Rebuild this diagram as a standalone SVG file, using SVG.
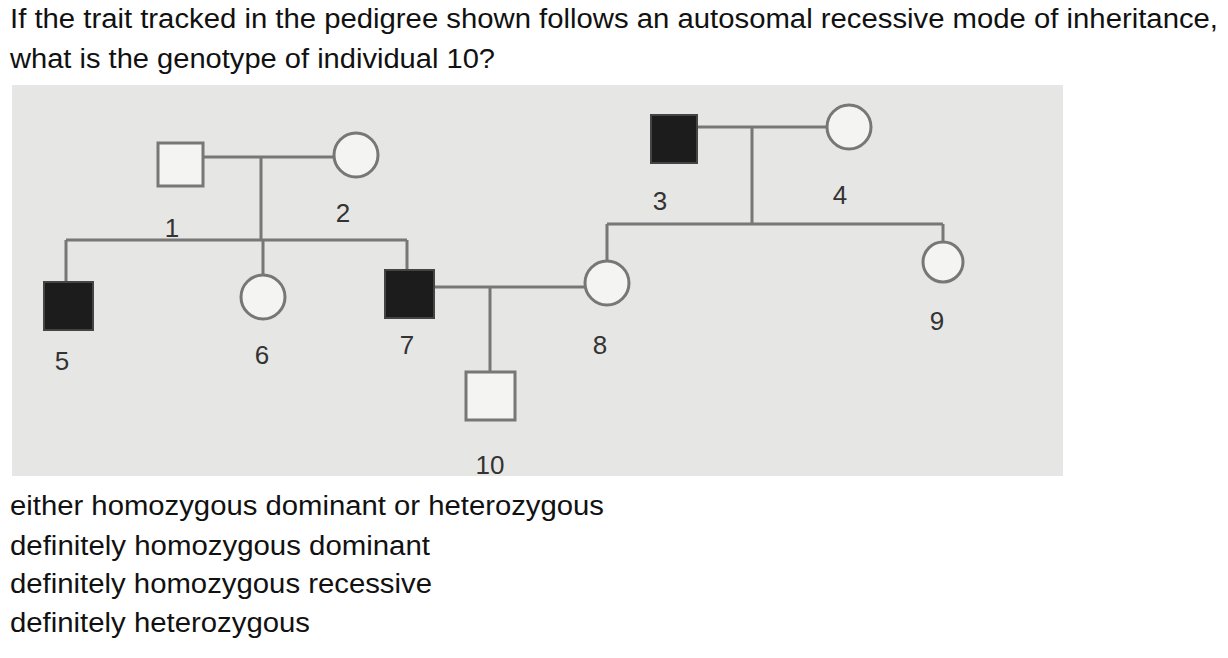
<svg xmlns="http://www.w3.org/2000/svg" width="1228" height="658" viewBox="0 0 1228 658">
<style>
.q{font-family:"Liberation Sans",Arial,sans-serif;font-size:27px;fill:#111}
.l{font-family:"Liberation Sans",Arial,sans-serif;font-size:26px;fill:#333;text-anchor:middle}
.n{fill:#f4f4f2;stroke:#777;stroke-width:3}
.a{fill:#1c1c1c;stroke:#444;stroke-width:2}
.c{stroke:#777;stroke-width:3;fill:none}
</style>
<rect width="1228" height="658" fill="#fff"/>
<text class="q" x="10" y="28" textLength="1208" lengthAdjust="spacingAndGlyphs">If the trait tracked in the pedigree shown follows an autosomal recessive mode of inheritance,</text>
<text class="q" x="10" y="68" textLength="485" lengthAdjust="spacingAndGlyphs">what is the genotype of individual 10?</text>
<rect x="12" y="85" width="1051" height="391" fill="#e6e6e4"/>
<g id="connectors">
<path class="c" d="M203 157H334M261 157V240M66 240H407M66 240V282M263 240V275M407 240V270M434 287H585M490 287V372M697 127H827M752 127V224M607 224H943M607 224V261M943 224V242"/>
</g>
<g id="n1"><rect class="n" x="158" y="143" width="45" height="43"/><text class="l" x="172" y="237">1</text></g>
<g id="n2"><circle class="n" cx="356" cy="155" r="22"/><text class="l" x="343" y="222">2</text></g>
<g id="n3"><rect class="a" x="651" y="115" width="46" height="48"/><text class="l" x="660" y="210">3</text></g>
<g id="n4"><circle class="n" cx="849" cy="127" r="22"/><text class="l" x="840" y="204">4</text></g>
<g id="n5"><rect class="a" x="44" y="282" width="49" height="48"/><text class="l" x="62" y="370">5</text></g>
<g id="n6"><circle class="n" cx="263" cy="297" r="22"/><text class="l" x="262" y="364">6</text></g>
<g id="n7"><rect class="a" x="385" y="270" width="49" height="48"/><text class="l" x="407" y="354">7</text></g>
<g id="n8"><circle class="n" cx="607" cy="283" r="22"/><text class="l" x="600" y="354">8</text></g>
<g id="n9"><circle class="n" cx="943" cy="262" r="20"/><text class="l" x="937" y="330">9</text></g>
<g id="n10"><rect class="n" x="466" y="372" width="49" height="48"/><text class="l" x="490" y="474">10</text></g>
<text class="q" x="10" y="515" textLength="594" lengthAdjust="spacingAndGlyphs">either homozygous dominant or heterozygous</text>
<text class="q" x="10" y="555" textLength="420" lengthAdjust="spacingAndGlyphs">definitely homozygous dominant</text>
<text class="q" x="10" y="593" textLength="422" lengthAdjust="spacingAndGlyphs">definitely homozygous recessive</text>
<text class="q" x="10" y="632" textLength="300" lengthAdjust="spacingAndGlyphs">definitely heterozygous</text>
</svg>
